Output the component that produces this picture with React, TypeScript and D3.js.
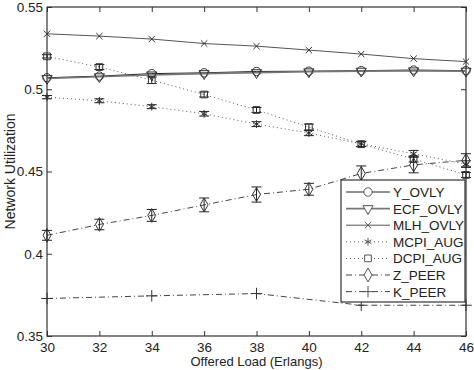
import * as d3 from "d3";
import {useEffect, useRef} from "react";

// offered load (Erlangs)
const loads = [30, 32, 34, 36, 38, 40, 42, 44, 46];

const yOvly = [0.5070, 0.5080, 0.5095, 0.5100, 0.5108, 0.5110, 0.5113, 0.5117, 0.5113];
const ecfOvly = [0.5065, 0.5076, 0.5087, 0.5095, 0.5101, 0.5106, 0.5110, 0.5112, 0.5110];
const mlhOvly = [0.5337, 0.5323, 0.5305, 0.5278, 0.5262, 0.5238, 0.5214, 0.5186, 0.5168];
const mcpiAug = [0.4952, 0.4930, 0.4894, 0.4851, 0.4788, 0.4734, 0.4668, 0.4608, 0.4545];
const mcpiErr = [0.0010, 0.0012, 0.0012, 0.0014, 0.0015, 0.0016, 0.0016, 0.0020, 0.0020];
const dcpiAug = [0.5200, 0.5135, 0.5055, 0.4968, 0.4874, 0.4770, 0.4666, 0.4576, 0.4479];
const dcpiErr = [0.0010, 0.0015, 0.0020, 0.0015, 0.0015, 0.0018, 0.0015, 0.0018, 0.0015];
const zPeer = [0.4112, 0.4178, 0.4233, 0.4297, 0.4360, 0.4392, 0.4488, 0.4540, 0.4568];
const zPeerErr = [0.0030, 0.0032, 0.0036, 0.0042, 0.0046, 0.0036, 0.0046, 0.0048, 0.0040];
const kPeerLoads = [30, 34, 38, 42, 46];
const kPeer = [0.3728, 0.3744, 0.3758, 0.3687, 0.3687];

const yTicks = [0.35, 0.4, 0.45, 0.5, 0.55];
const yTickLabels = ["0.35", "0.4", "0.45", "0.5", "0.55"];

function App() {
  const ref = useRef<SVGSVGElement>(null);

  useEffect(() => {
    const width = 474;
    const height = 370;
    const margin = {top: 7, right: 8, bottom: 34, left: 47};
    const font = "Liberation Sans, Arial, sans-serif";

    const svg = d3.select(ref.current);
    svg.selectAll("*").remove();

    const x = d3.scaleLinear().domain([30, 46]).range([margin.left, width - margin.right]);
    const y = d3.scaleLinear().domain([0.35, 0.55]).range([height - margin.bottom, margin.top]);

    const axisColor = "#333";

    // axes with inward ticks on all four sides (box style)
    svg.append("g")
      .attr("transform", `translate(0,${y(0.35)})`)
      .call(d3.axisBottom(x).tickValues(loads).tickSize(-5).tickPadding(6).tickFormat(d3.format("d")))
      .call(g => g.select(".domain").remove());
    svg.append("g")
      .attr("transform", `translate(0,${y(0.55)})`)
      .call(d3.axisTop(x).tickValues(loads).tickSize(-5).tickFormat(() => ""))
      .call(g => g.select(".domain").remove());
    svg.append("g")
      .attr("transform", `translate(${x(30)},0)`)
      .call(d3.axisLeft(y).tickValues(yTicks).tickSize(-5).tickPadding(4)
        .tickFormat((d, i) => yTickLabels[i]))
      .call(g => g.select(".domain").remove());
    svg.append("g")
      .attr("transform", `translate(${x(46)},0)`)
      .call(d3.axisRight(y).tickValues(yTicks).tickSize(-5).tickFormat(() => ""))
      .call(g => g.select(".domain").remove());

    svg.selectAll(".tick line").attr("stroke", axisColor);
    svg.selectAll(".tick text")
      .attr("fill", "#222")
      .style("font-family", font)
      .style("font-size", "13.5px");

    svg.append("rect")
      .attr("x", x(30)).attr("y", y(0.55))
      .attr("width", x(46) - x(30)).attr("height", y(0.35) - y(0.55))
      .attr("fill", "none").attr("stroke", axisColor).attr("stroke-width", 1.2);

    // titles
    svg.append("text")
      .attr("x", (x(30) + x(46)) / 2)
      .attr("y", height - 4)
      .attr("text-anchor", "middle")
      .style("font-family", font).style("font-size", "13px").attr("fill", "#222")
      .text("Offered Load (Erlangs)");
    svg.append("text")
      .attr("transform", `translate(15,${(y(0.35) + y(0.55)) / 2}) rotate(-90)`)
      .attr("text-anchor", "middle")
      .style("font-family", font).style("font-size", "14px").attr("fill", "#222")
      .text("Network Utilization");

    const series = [
      {name: "Y_OVLY", xs: loads, ys: yOvly, err: null, color: "#222", width: 1, dash: null, symbol: d3.symbolCircle, size: 55, rotate: 0},
      {name: "ECF_OVLY", xs: loads, ys: ecfOvly, err: null, color: "#777", width: 1.6, dash: null, symbol: d3.symbolTriangle, size: 45, rotate: 180},
      {name: "MLH_OVLY", xs: loads, ys: mlhOvly, err: null, color: "#555", width: 1, dash: null, symbol: d3.symbolTimes, size: 28, rotate: 0},
      {name: "MCPI_AUG", xs: loads, ys: mcpiAug, err: mcpiErr, color: "#555", width: 1, dash: "1,3", symbol: d3.symbolAsterisk, size: 42, rotate: 0},
      {name: "DCPI_AUG", xs: loads, ys: dcpiAug, err: dcpiErr, color: "#555", width: 1, dash: "1,3", symbol: d3.symbolSquare, size: 45, rotate: 0},
      {name: "Z_PEER", xs: loads, ys: zPeer, err: zPeerErr, color: "#444", width: 1, dash: "6,3,1,3", symbol: d3.symbolDiamond, size: 55, rotate: 0},
      {name: "K_PEER", xs: kPeerLoads, ys: kPeer, err: null, color: "#444", width: 1, dash: "6,3,1,3", symbol: d3.symbolPlus, size: 45, rotate: 0}
    ];

    const plot = svg.append("g");
    const line = d3.line<[number, number]>().x(d => x(d[0])).y(d => y(d[1]));

    series.forEach(s => {
      const pts: [number, number][] = s.xs.map((v, i) => [v, s.ys[i]]);
      plot.append("path")
        .attr("d", line(pts))
        .attr("fill", "none")
        .attr("stroke", s.color)
        .attr("stroke-width", s.width)
        .attr("stroke-dasharray", s.dash);

      if (s.err) {
        const err = s.err;
        pts.forEach((p, i) => {
          const y0 = y(p[1] - err[i]);
          const y1 = y(p[1] + err[i]);
          const g = plot.append("g").attr("stroke", "#222").attr("stroke-width", 1);
          g.append("line").attr("x1", x(p[0])).attr("x2", x(p[0])).attr("y1", y0).attr("y2", y1);
          g.append("line").attr("x1", x(p[0]) - 5).attr("x2", x(p[0]) + 5).attr("y1", y0).attr("y2", y0);
          g.append("line").attr("x1", x(p[0]) - 5).attr("x2", x(p[0]) + 5).attr("y1", y1).attr("y2", y1);
        });
      }

      plot.selectAll(null)
        .data(pts)
        .enter()
        .append("path")
          .attr("d", d3.symbol().type(s.symbol).size(s.size)())
          .attr("transform", d => `translate(${x(d[0])},${y(d[1])}) rotate(${s.rotate})`)
          .attr("fill", "none")
          .attr("stroke", "#333")
          .attr("stroke-width", 1);
    });

    // legend
    const lx = 341, ly = 180, lw = 124, lh = 122;
    const legend = svg.append("g");
    legend.append("rect")
      .attr("x", lx).attr("y", ly).attr("width", lw).attr("height", lh)
      .attr("fill", "white").attr("stroke", axisColor).attr("stroke-width", 1.2);
    series.forEach((s, i) => {
      const cy = ly + 12 + i * 16.6;
      legend.append("line")
        .attr("x1", lx + 5).attr("x2", lx + 49).attr("y1", cy).attr("y2", cy)
        .attr("stroke", s.color).attr("stroke-width", s.width)
        .attr("stroke-dasharray", s.dash);
      legend.append("path")
        .attr("d", d3.symbol().type(s.symbol).size(s.size)())
        .attr("transform", `translate(${lx + 27},${cy}) rotate(${s.rotate})`)
        .attr("fill", "white").attr("stroke", "#555");
      legend.append("text")
        .attr("x", lx + 52).attr("y", cy + 5)
        .style("font-family", font).style("font-size", "13.5px").attr("fill", "#222")
        .text(s.name);
    });
  });

  return (
    <svg ref={ref} width={474} height={370}
      style={{position: "absolute", left: 0, top: 0, background: "white"}}></svg>
  );
}

export default App;
